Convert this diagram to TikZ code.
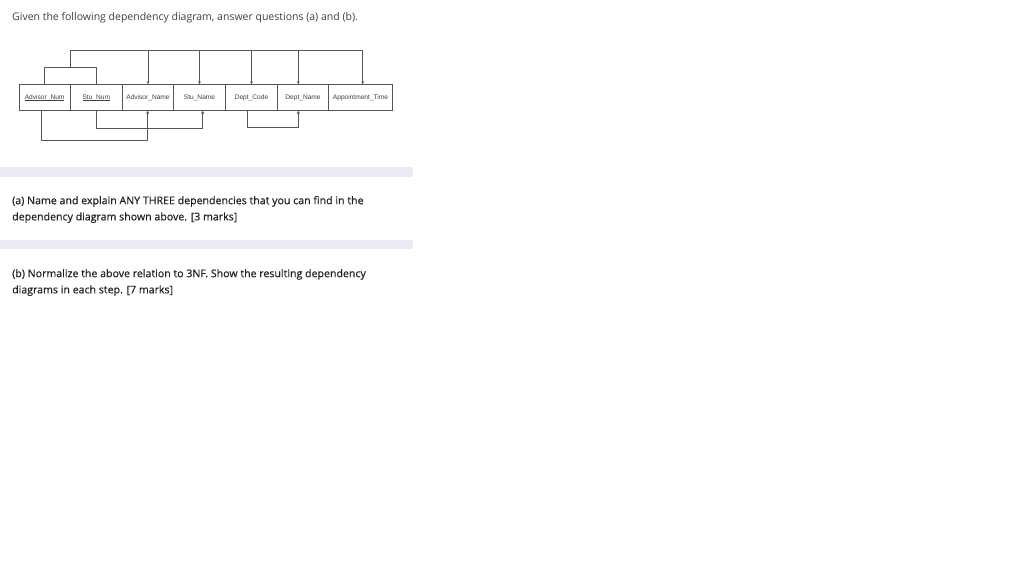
\documentclass[tikz,border=0pt]{standalone}
\usepackage{fontspec}
\setmainfont{Open Sans}
\newfontfamily\boxfont{Liberation Sans}
\newfontface\medfont[FakeBold=0.4]{Open Sans}
\usetikzlibrary{arrows.meta}
\definecolor{band}{RGB}{237,234,246}
\definecolor{linegray}{RGB}{85,85,85}
\definecolor{titlegray}{RGB}{60,64,67}
\definecolor{qtext}{RGB}{32,33,36}
\newlength\ulwd
\newcommand\ulx[1]{\settowidth\ulwd{#1}\rlap{\rule[-1.1pt]{\ulwd}{0.45pt}}#1}
\tikzset{
  cell/.style={draw=linegray, line width=0.8pt, minimum height=26pt, inner sep=0pt,
    font=\boxfont\fontsize{6.6}{7}\selectfont, text=black!75},
  conn/.style={draw=linegray, line width=0.8pt},
  arr/.style={conn, -{Triangle[length=2.6pt,width=2.8pt]}},
  para/.style={anchor=west, inner sep=0pt, align=left},
}
\begin{document}
\begin{tikzpicture}[x=1pt,y=-1pt]
\useasboundingbox (0,0) rectangle (1024,576);
\fill[white] (0,0) rectangle (1024,576);

% title
\node[para, text=titlegray, font=\fontsize{10.5}{12}\selectfont] (title) at (12,17.8)
  {Given the following dependency diagram, answer questions (a) and (b).};

% cells
\node[cell, minimum width=51.3pt] (an)  at (44.65,97.5) {\ulx{Advisor\_Num}};
\node[cell, minimum width=52pt]   (sn)  at (96.3,97.5)  {\ulx{Stu\_Num}};
\node[cell, minimum width=51.4pt] (adn) at (148,97.5)   {Advisor\_Name};
\node[cell, minimum width=51.6pt] (snm) at (199.5,97.5) {Stu\_Name};
\node[cell, minimum width=52.4pt] (dc)  at (251.5,97.5) {Dept\_Code};
\node[cell, minimum width=50.6pt] (dn)  at (303,97.5)   {Dept\_Name};
\node[cell, minimum width=64.4pt] (at)  at (360.5,97.5) {Appointment\_Time};

% key bracket and top line
\coordinate (kb) at (70.3,67.7);
\coordinate (tp) at (70.3,50.7);
\coordinate (te) at (362.7,50.7);
\coordinate (dnn) at ([xshift=-4.7pt]dn.north);
\draw[conn] (an.north) |- (kb) -| (sn.north);
\draw[conn] (kb) -- (tp) -- (te);
\draw[arr] (tp -| adn.north) -- (adn.north);
\draw[arr] (tp -| snm.north) -- (snm.north);
\draw[arr] (tp -| dc.north) -- (dc.north);
\draw[arr] (tp -| dnn) -- (dnn);
\draw[arr] (te) -- ([xshift=2.2pt]at.north);

% bottom dependencies
\draw[arr] ([xshift=-3.6pt]an.south) -- ++(0,29.5) -| ([xshift=-0.3pt]adn.south);
\draw[arr] ([xshift=0.4pt]sn.south) -- ++(0,17.2) -| ([xshift=3.2pt]snm.south);
\draw[arr] ([xshift=-3.8pt]dc.south) -- ++(0,16.8) -| ([xshift=-4.7pt]dn.south);

% bands
\fill[band] (0,167.3) rectangle (413,176.7);
\fill[band] (0,240) rectangle (413,249.3);

% questions
\node[para, text=qtext, font=\medfont\fontsize{10.6}{16.2}\selectfont] (qa) at (12,209.5)
  {(a) Name and explain ANY THREE dependencies that you can find in the\\
   dependency diagram shown above. [3 marks]};
\node[para, text=qtext, font=\medfont\fontsize{10.6}{16.2}\selectfont] (qb) at (12,282.5)
  {(b) Normalize the above relation to 3NF. Show the resulting dependency\\
   diagrams in each step. [7 marks]};
\end{tikzpicture}
\end{document}
